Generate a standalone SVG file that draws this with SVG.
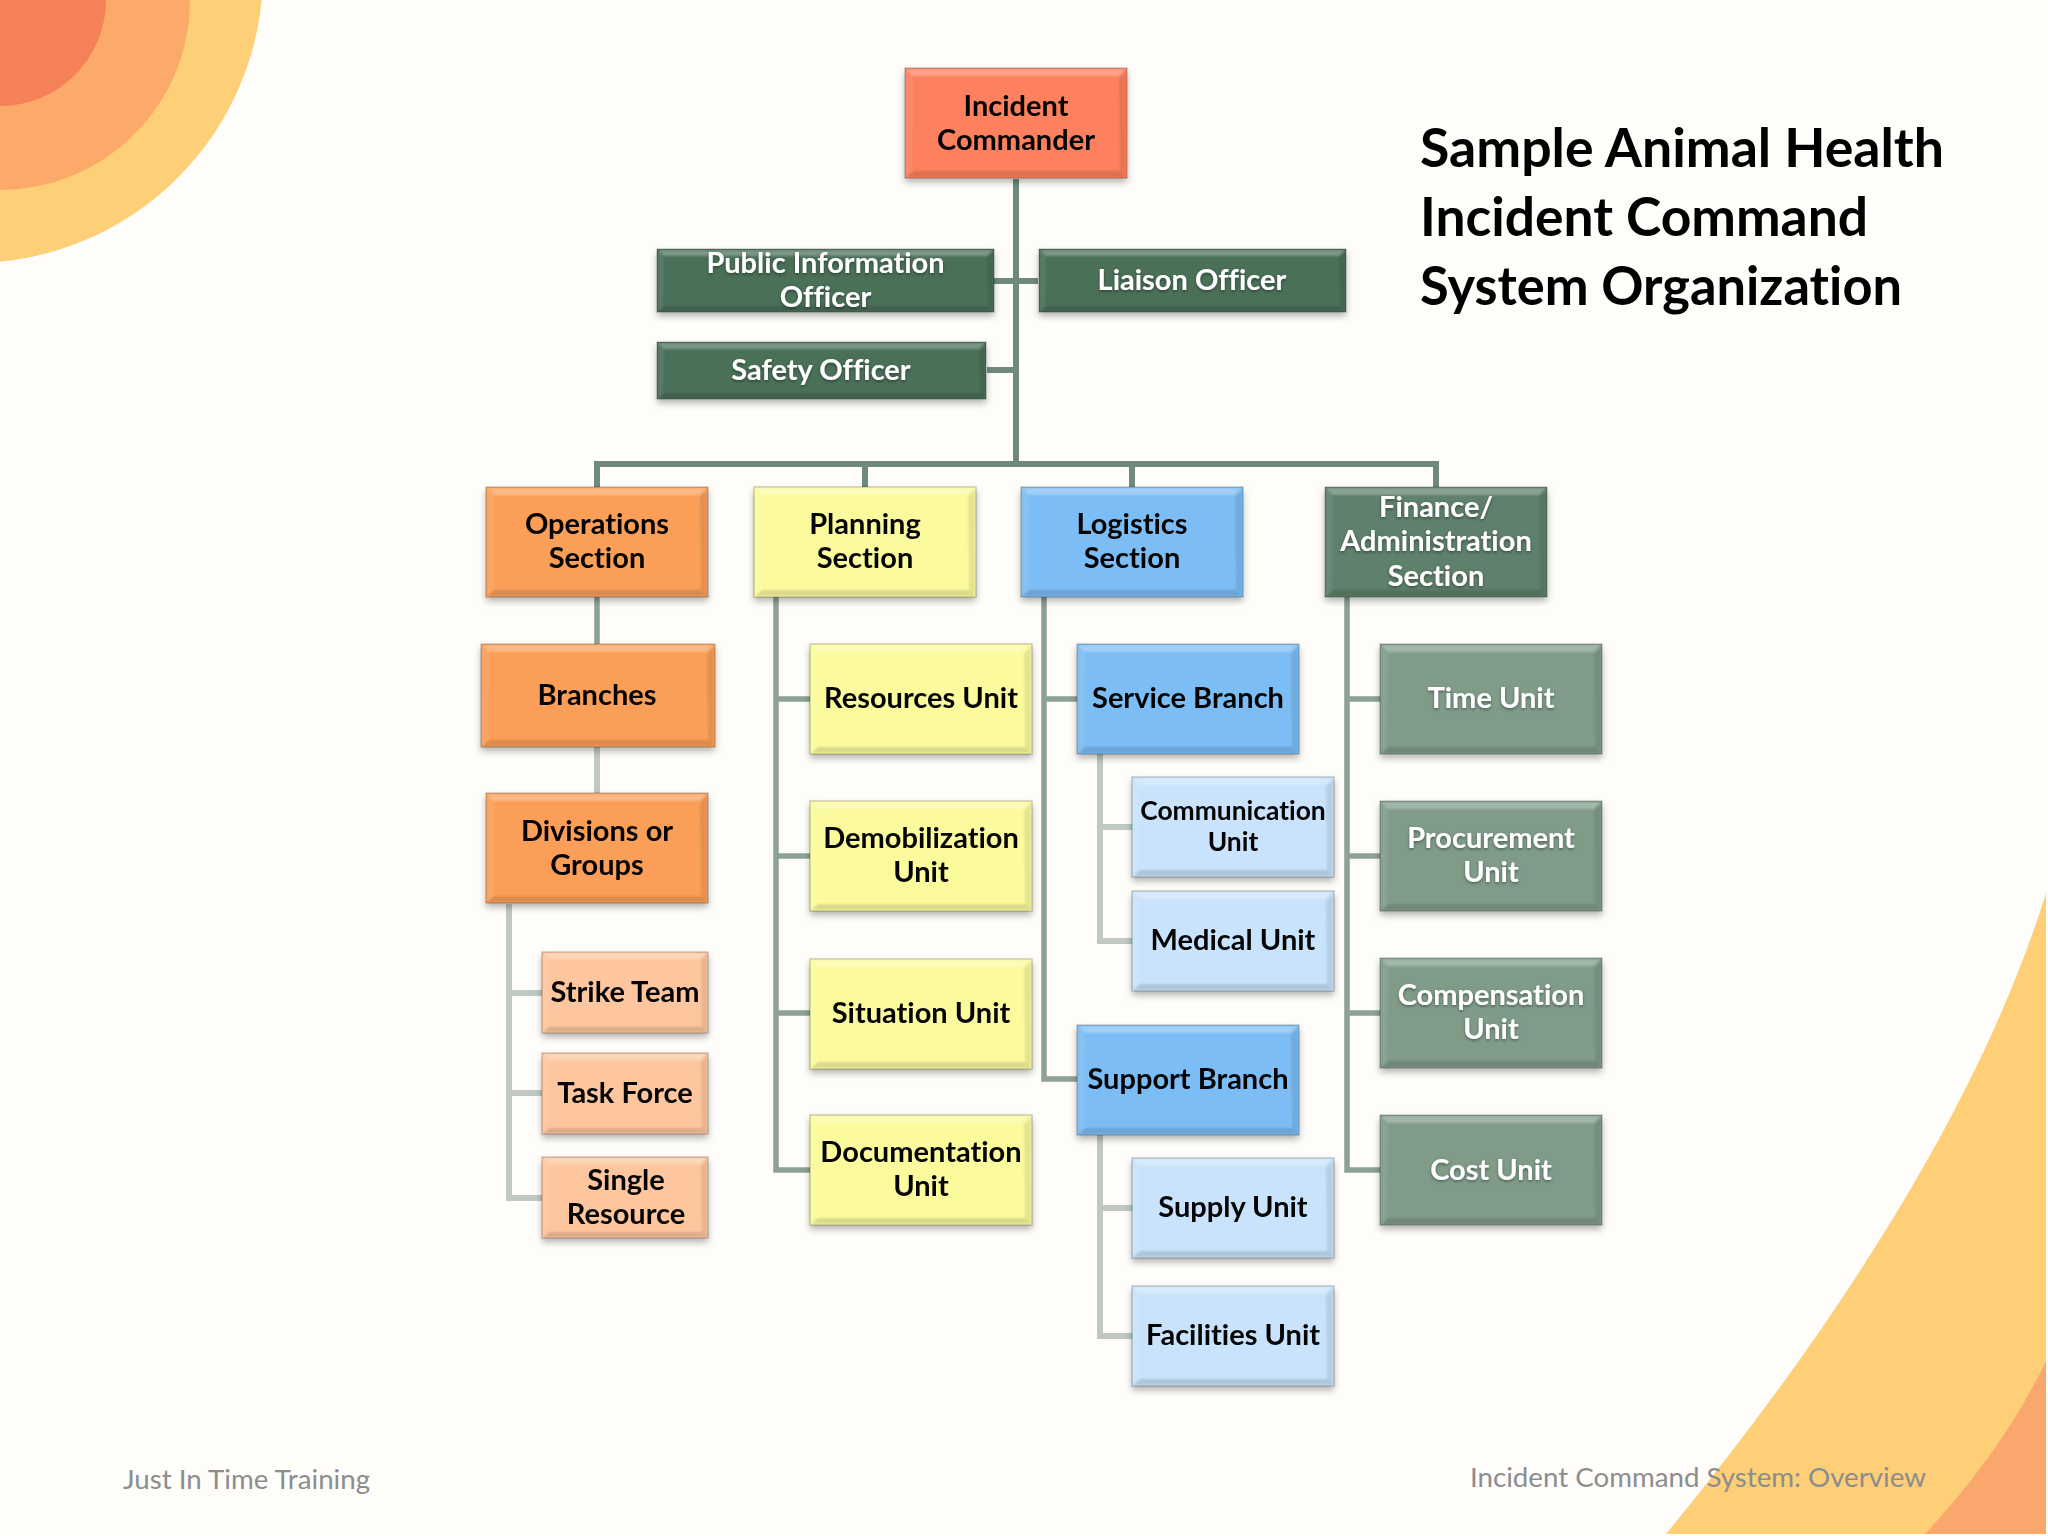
<svg xmlns="http://www.w3.org/2000/svg" width="2048" height="1536" viewBox="0 0 2048 1536">
<style>
text{font-family:"Lato","Liberation Sans",sans-serif;font-weight:700;font-size:29px;text-anchor:middle;fill:#050505;font-variant-ligatures:none}
.w{fill:#fff;filter:url(#ts)}
.c{font-size:26.4px}
#title text{font-size:53.5px;text-anchor:start;fill:#000}
.foot{font-weight:400;font-size:27.7px;fill:#8b8d8f;text-anchor:start}
.body{filter:url(#ds)}
.frame{fill:none;stroke:#000;stroke-opacity:.18;stroke-width:1.5}
.bv{filter:url(#bl)}
.hi{fill:#fff;opacity:.27}.lo{fill:#000;opacity:.13}.sl{fill:#fff;opacity:.08}.sr{fill:#000;opacity:.09}
.red{fill:#fe815e}.grn{fill:#4b7059}.org{fill:#fb9f58}.yel{fill:#fbfb9e}.blu{fill:#7dbdf5}.fin{fill:#5f806b}.lbl{fill:#c8e3fb}.pch{fill:#fdc69e}.sag{fill:#809c89}
.m{fill:none;stroke:#6f8a7c;stroke-width:6}
.d{fill:none;stroke:#8da195;stroke-width:5.5}
.l{fill:none;stroke:#bfc8c2;stroke-width:6}
</style>
<defs>
<filter id="ds" x="-10%" y="-10%" width="120%" height="130%"><feDropShadow dx="0" dy="4" stdDeviation="3.5" flood-color="#000" flood-opacity=".3"/></filter>
<filter id="ts" x="-10%" y="-20%" width="120%" height="150%"><feDropShadow dx="0" dy="1.5" stdDeviation="1.5" flood-color="#000" flood-opacity=".4"/></filter>
<filter id="bl" x="-3%" y="-6%" width="106%" height="112%"><feGaussianBlur stdDeviation=".9"/></filter>
<g id="b222"><rect class="body" width="222" height="110"/><g class="bv"><polygon class="hi" points="1,1 221,1 214,8 8,8"/><polygon class="lo" points="1,109 221,109 215,103 7,103"/><polygon class="sl" points="1,1 8,8 7,103 1,109"/><polygon class="sr" points="221,1 214,8 215,103 221,109"/></g><rect class="frame" width="222" height="110"/></g>
<g id="b234"><rect class="body" width="234" height="103"/><g class="bv"><polygon class="hi" points="1,1 233,1 226,8 8,8"/><polygon class="lo" points="1,102 233,102 227,96 7,96"/><polygon class="sl" points="1,1 8,8 7,96 1,102"/><polygon class="sr" points="233,1 226,8 227,96 233,102"/></g><rect class="frame" width="234" height="103"/></g>
<g id="b202"><rect class="body" width="202" height="100"/><g class="bv"><polygon class="hi" points="1,1 201,1 194,8 8,8"/><polygon class="lo" points="1,99 201,99 195,93 7,93"/><polygon class="sl" points="1,1 8,8 7,93 1,99"/><polygon class="sr" points="201,1 194,8 195,93 201,99"/></g><rect class="frame" width="202" height="100"/></g>
<g id="b166"><rect class="body" width="166" height="81"/><g class="bv"><polygon class="hi" points="1,1 165,1 159,7 7,7"/><polygon class="lo" points="1,80 165,80 160,75 6,75"/><polygon class="sl" points="1,1 7,7 6,75 1,80"/><polygon class="sr" points="165,1 159,7 160,75 165,80"/></g><rect class="frame" width="166" height="81"/></g>
<g id="b337"><rect class="body" width="337" height="63"/><g class="bv"><polygon class="hi" points="1,1 336,1 330,7 7,7"/><polygon class="lo" points="1,62 336,62 331,57 6,57"/><polygon class="sl" points="1,1 7,7 6,57 1,62"/><polygon class="sr" points="336,1 330,7 331,57 336,62"/></g><rect class="frame" width="337" height="63"/></g>
<g id="b307"><rect class="body" width="307" height="63"/><g class="bv"><polygon class="hi" points="1,1 306,1 300,7 7,7"/><polygon class="lo" points="1,62 306,62 301,57 6,57"/><polygon class="sl" points="1,1 7,7 6,57 1,62"/><polygon class="sr" points="306,1 300,7 301,57 306,62"/></g><rect class="frame" width="307" height="63"/></g>
<g id="b329"><rect class="body" width="329" height="57"/><g class="bv"><polygon class="hi" points="1,1 328,1 322,7 7,7"/><polygon class="lo" points="1,56 328,56 323,51 6,51"/><polygon class="sl" points="1,1 7,7 6,51 1,56"/><polygon class="sr" points="328,1 322,7 323,51 328,56"/></g><rect class="frame" width="329" height="57"/></g>
</defs>
<rect width="2048" height="1536" fill="#fffdf9"/>
<g id="decor">
<circle cx="-28" cy="-28" r="291" fill="#fdcf76"/><circle cx="0" cy="0" r="190" fill="#fbaa6c"/><circle cx="0" cy="0" r="106" fill="#f58158"/>
<path d="M2046 893C1985 1090 1850 1310 1666 1534H2046Z" fill="#fecf76"/>
<path d="M2046 1361C2015 1425 1975 1480 1925 1534H2046Z" fill="#f9a76c"/>
</g>
<g id="connectors">
<path class="m" d="M1016 179V464M994 281H1038M987 370H1016M597 487V464H1436V487M865 464V487M1132 464V487"/>
<path class="d" d="M776 597V1170H810M776 699H810M776 856H810M776 1013H810M1044 597V1079H1077M1044 699H1077M1347 597V1170H1380M1347 699H1380M1347 856H1380M1347 1013H1380M597 597V644"/>
<path class="l" d="M597 747V793M509 904V1198H542M509 993H542M509 1093H542M1100 754V941H1132M1100 827H1132M1100 1134V1336H1132M1100 1208H1132"/>
</g>
<g id="title"><text x="1420" y="167" textLength="524" lengthAdjust="spacingAndGlyphs">Sample Animal Health</text><text x="1420" y="236" textLength="448" lengthAdjust="spacingAndGlyphs">Incident Command</text><text x="1420" y="305" textLength="482" lengthAdjust="spacingAndGlyphs">System Organization</text></g>
<g id="n-ic"><use href="#b222" class="red" x="905" y="68"/><text x="1016" y="116">Incident</text><text x="1016" y="150">Commander</text></g>
<g id="n-pio"><use href="#b337" class="grn" x="657" y="249"/><text class="w" x="825.5" y="273">Public Information</text><text class="w" x="825.5" y="307">Officer</text></g>
<g id="n-liaison"><use href="#b307" class="grn" x="1039" y="249"/><text class="w" x="1192" y="290">Liaison Officer</text></g>
<g id="n-safety"><use href="#b329" class="grn" x="657" y="342"/><text class="w" x="821" y="380">Safety Officer</text></g>
<g id="n-ops"><use href="#b222" class="org" x="486" y="487"/><text x="597" y="534">Operations</text><text x="597" y="568">Section</text></g>
<g id="n-plan"><use href="#b222" class="yel" x="754" y="487"/><text x="865" y="534">Planning</text><text x="865" y="568">Section</text></g>
<g id="n-log"><use href="#b222" class="blu" x="1021" y="487"/><text x="1132" y="534">Logistics</text><text x="1132" y="568">Section</text></g>
<g id="n-fin"><use href="#b222" class="fin" x="1325" y="487"/><text class="w" x="1436" y="517">Finance/</text><text class="w" x="1436" y="551">Administration</text><text class="w" x="1436" y="586">Section</text></g>
<g id="n-branches"><use href="#b234" class="org" x="481" y="644"/><text x="597" y="705">Branches</text></g>
<g id="n-div"><use href="#b222" class="org" x="486" y="793"/><text x="597" y="841">Divisions or</text><text x="597" y="875">Groups</text></g>
<g id="n-strike"><use href="#b166" class="pch" x="542" y="952"/><text x="625" y="1002">Strike Team</text></g>
<g id="n-task"><use href="#b166" class="pch" x="542" y="1053"/><text x="625" y="1103">Task Force</text></g>
<g id="n-single"><use href="#b166" class="pch" x="542" y="1157"/><text x="626" y="1190">Single</text><text x="626" y="1224">Resource</text></g>
<g id="n-res"><use href="#b222" class="yel" x="810" y="644"/><text x="921" y="708">Resources Unit</text></g>
<g id="n-dem"><use href="#b222" class="yel" x="810" y="801"/><text x="921" y="848">Demobilization</text><text x="921" y="882">Unit</text></g>
<g id="n-sit"><use href="#b222" class="yel" x="810" y="959"/><text x="921" y="1023">Situation Unit</text></g>
<g id="n-doc"><use href="#b222" class="yel" x="810" y="1115"/><text x="921" y="1162">Documentation</text><text x="921" y="1196">Unit</text></g>
<g id="n-svc"><use href="#b222" class="blu" x="1077" y="644"/><text x="1188" y="708">Service Branch</text></g>
<g id="n-comm"><use href="#b202" class="lbl" x="1132" y="777"/><text class="c" x="1233" y="820">Communication</text><text class="c" x="1233" y="851">Unit</text></g>
<g id="n-med"><use href="#b202" class="lbl" x="1132" y="891"/><text x="1233" y="950">Medical Unit</text></g>
<g id="n-sup"><use href="#b222" class="blu" x="1077" y="1025"/><text x="1188" y="1089">Support Branch</text></g>
<g id="n-supply"><use href="#b202" class="lbl" x="1132" y="1158"/><text x="1233" y="1217">Supply Unit</text></g>
<g id="n-fac"><use href="#b202" class="lbl" x="1132" y="1286"/><text x="1233" y="1345">Facilities Unit</text></g>
<g id="n-time"><use href="#b222" class="sag" x="1380" y="644"/><text class="w" x="1491" y="708">Time Unit</text></g>
<g id="n-proc"><use href="#b222" class="sag" x="1380" y="801"/><text class="w" x="1491" y="848">Procurement</text><text class="w" x="1491" y="882">Unit</text></g>
<g id="n-comp"><use href="#b222" class="sag" x="1380" y="958"/><text class="w" x="1491" y="1005">Compensation</text><text class="w" x="1491" y="1039">Unit</text></g>
<g id="n-cost"><use href="#b222" class="sag" x="1380" y="1115"/><text class="w" x="1491" y="1180">Cost Unit</text></g>
<g id="footer"><text class="foot" x="123" y="1489">Just In Time Training</text><text class="foot" x="1470" y="1487">Incident Command System: Overview</text></g>
</svg>
